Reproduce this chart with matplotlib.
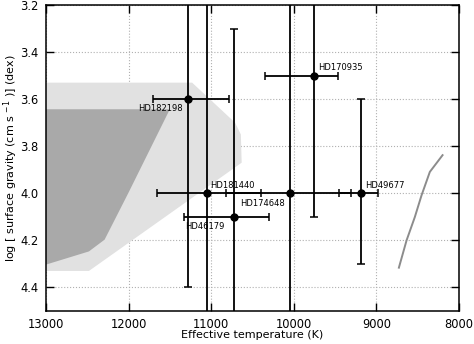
import numpy as np
import matplotlib.pyplot as plt

# stars: name, Teff (K), log g (dex) with errors
names = ['HD182198', 'HD181440', 'HD174648', 'HD46179', 'HD170935', 'HD49677']
teff = np.array([11280, 11050, 10050, 10720, 9750, 9180])
teff_err_lo = np.array([500, 650, 750, 415, 290, 200])   # toward cooler
teff_err_hi = np.array([420, 600, 770, 610, 600, 270])   # toward hotter
logg = np.array([3.6, 4.0, 4.0, 4.1, 3.5, 4.0])
logg_err_lo = np.array([0.8, 1.0, 1.0, 0.8, 0.6, 0.4])   # toward lower log g
logg_err_hi = np.array([0.8, 1.0, 1.0, 0.8, 0.6, 0.3])

# label offsets in points and alignment
label_dx = [-4, 2.4, -3.6, -7, 2.4, 2.7]
label_dy = [-6.5, 5.5, -7, -6.8, 6, 5.5]
label_ha = ['right', 'left', 'right', 'right', 'left', 'left']

# instability strip regions
light_teff = [13000, 11230, 10710, 10640, 10630, 12480, 13000]
light_logg = [3.53, 3.53, 3.70, 3.75, 3.87, 4.33, 4.33]
dark_teff = [13000, 11500, 12000, 12290, 12480, 13000]
dark_logg = [3.643, 3.643, 3.997, 4.197, 4.247, 4.303]

# track on the right
track_teff = [8726, 8633, 8533, 8452, 8351, 8197]
track_logg = [4.316, 4.20, 4.101, 4.009, 3.909, 3.838]

fig = plt.figure(figsize=(4.74, 3.44), dpi=100)
ax = fig.add_axes([0.097, 0.096, 0.871, 0.8895])

ax.fill(light_teff, light_logg, color='#e1e1e1', lw=0, zorder=1)
ax.fill(dark_teff, dark_logg, color='#a9a9a9', lw=0, zorder=2)
ax.plot(track_teff, track_logg, color='#8c8c8c', lw=1.4, zorder=3)

ax.errorbar(teff, logg,
            xerr=[teff_err_lo, teff_err_hi],
            yerr=[logg_err_lo, logg_err_hi],
            fmt='o', color='black', ms=5, elinewidth=1.3, capsize=3,
            capthick=1.1, zorder=4)

for i in range(len(names)):
    ax.annotate(names[i], (teff[i], logg[i]),
                xytext=(label_dx[i], label_dy[i]), textcoords='offset points',
                ha=label_ha[i], va='center', fontsize=6, zorder=5)

ax.set_xlim(13000, 8000)
ax.set_ylim(4.5, 3.2)
ax.set_xticks([13000, 12000, 11000, 10000, 9000, 8000])
ax.set_yticks([3.2, 3.4, 3.6, 3.8, 4.0, 4.2, 4.4])
ax.set_yticklabels(['3.2', '3.4', '3.6', '3.8', '4.0', '4.2', '4.4'])
ax.tick_params(direction='in', length=6, width=1, top=True, right=True,
               labelsize=8.3, pad=5.5)
ax.tick_params(axis='x', pad=5)
ax.grid(True, color='#b0b0b0', linestyle=':', linewidth=0.8, zorder=0)
ax.set_axisbelow(True)
for s in ax.spines.values():
    s.set_linewidth(1.1)

ax.set_xlabel('Effective temperature (K)', fontsize=8)
ax.xaxis.set_label_coords(0.5, -0.063)
ax.set_ylabel(r'log [ surface gravity (cm s $^{-1}$ )] (dex)', fontsize=8)
ax.yaxis.set_label_coords(-0.064, 0.5)

fig.savefig('out.png', dpi=100)
